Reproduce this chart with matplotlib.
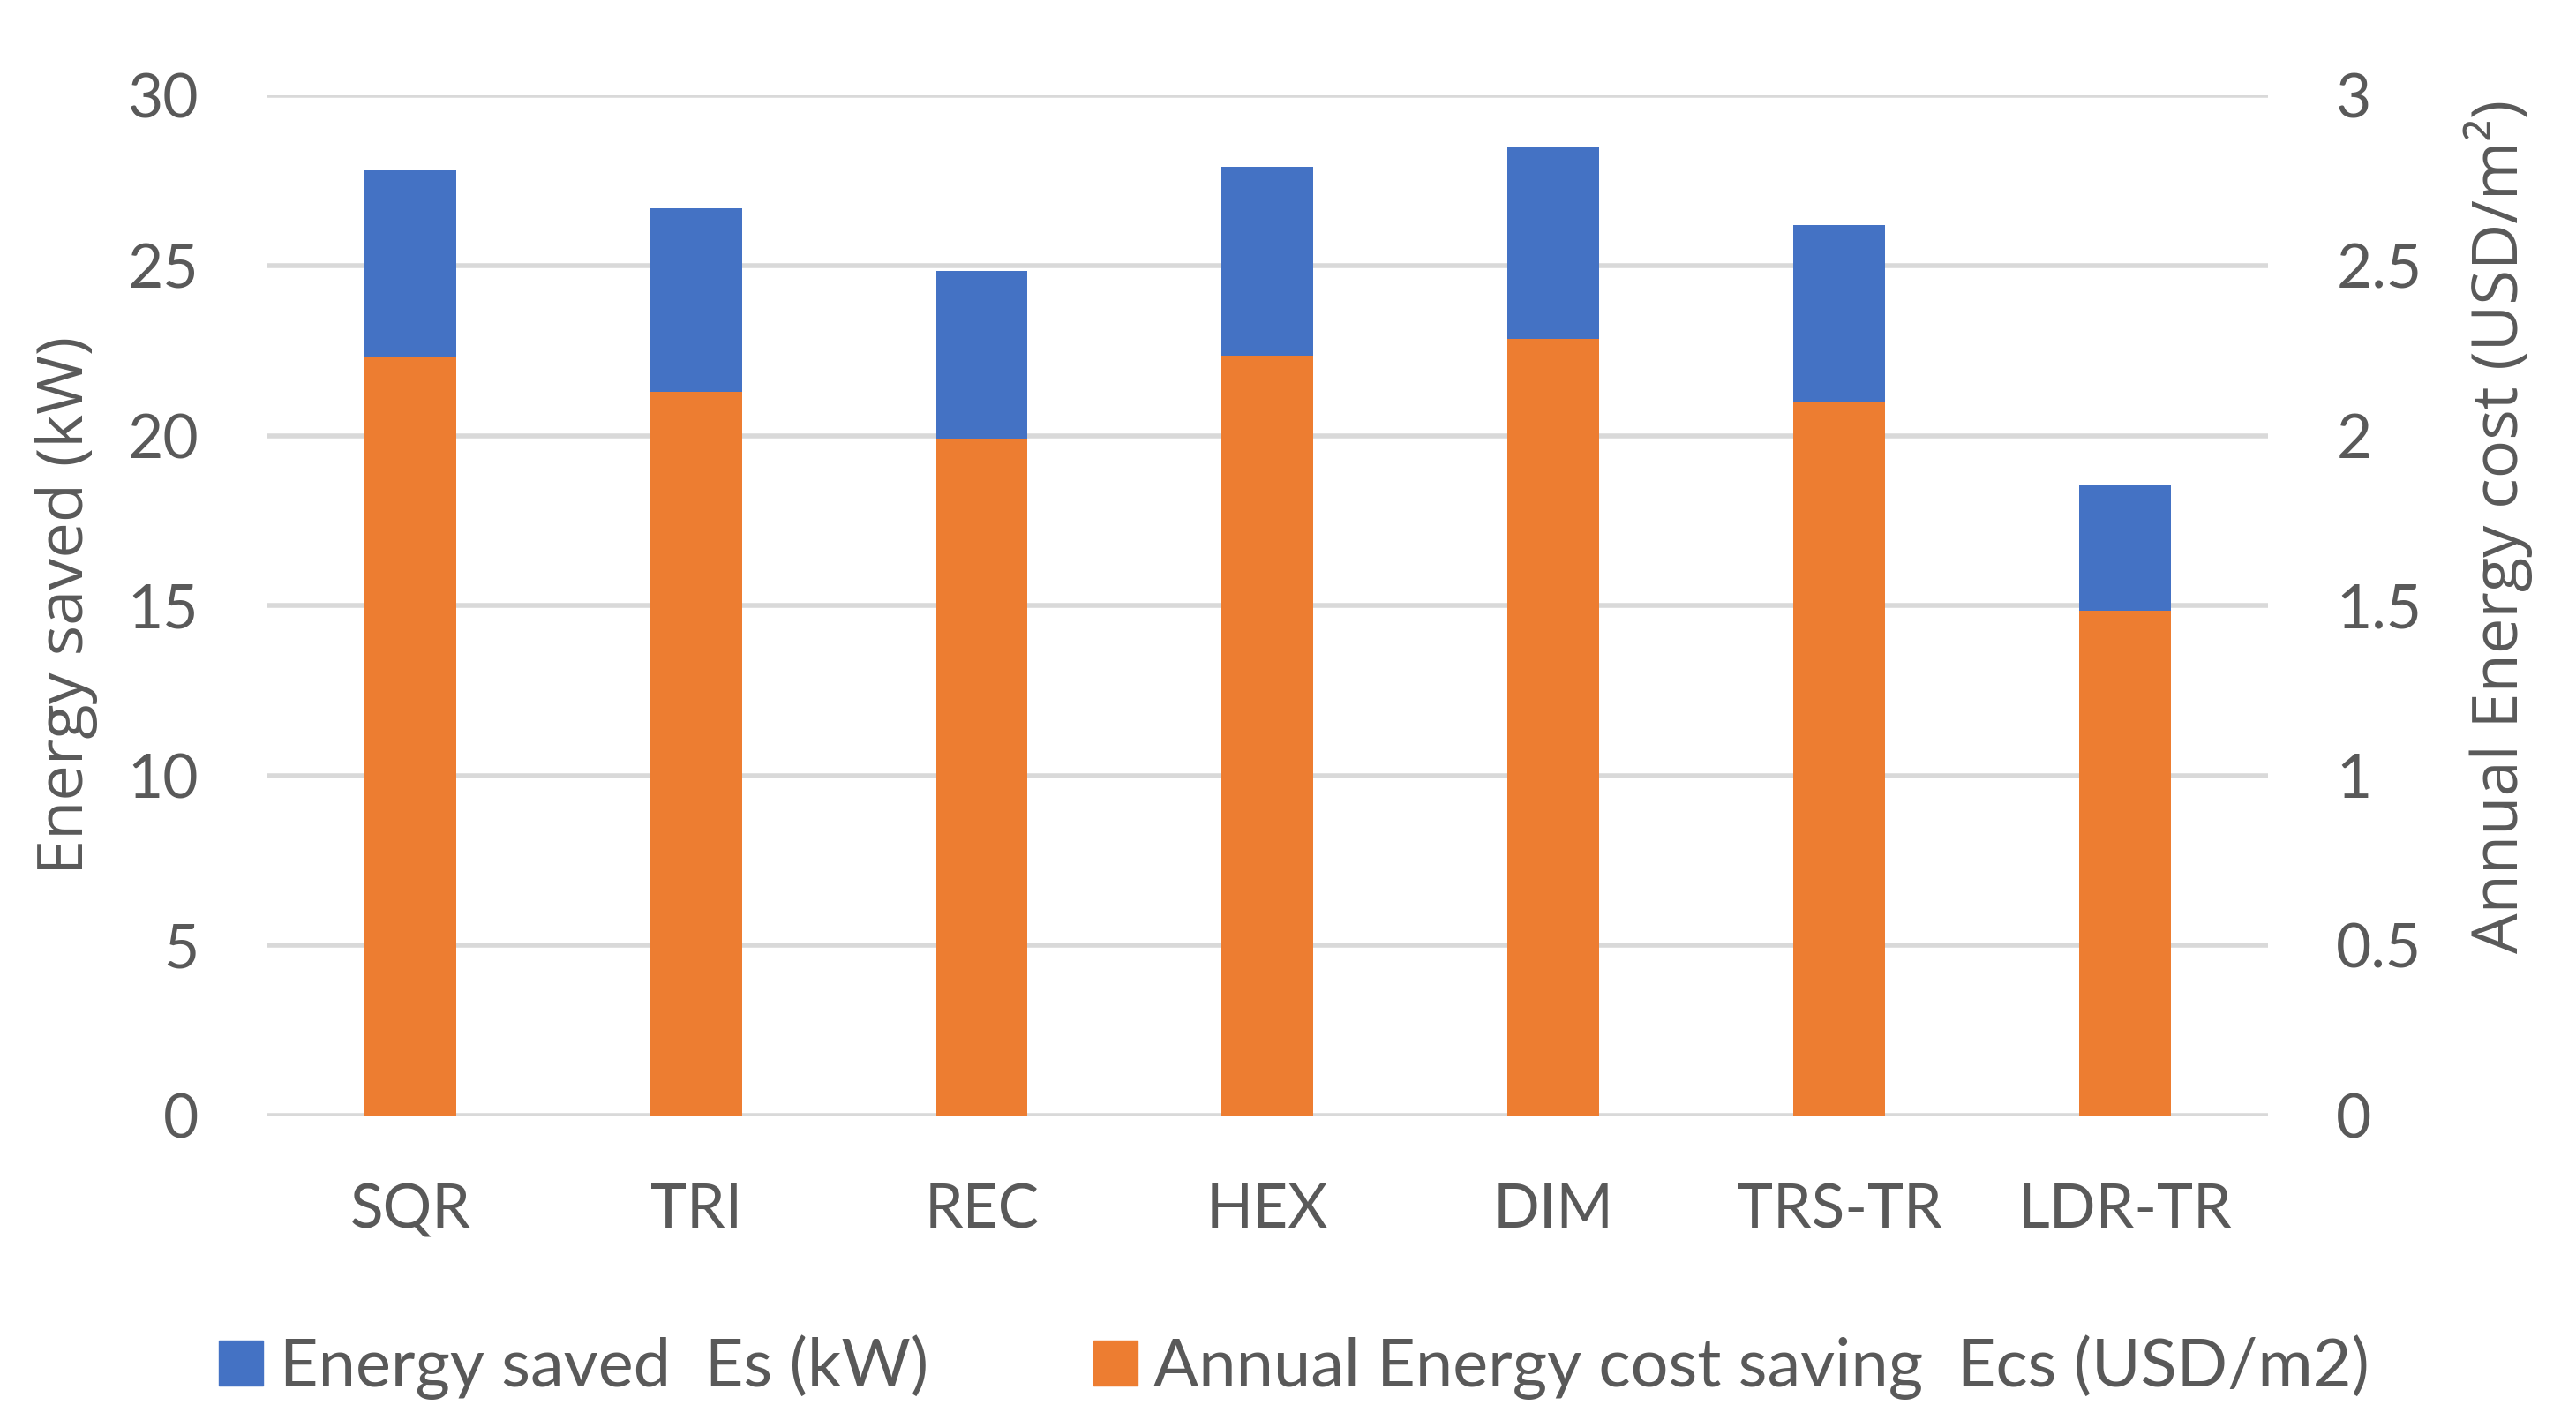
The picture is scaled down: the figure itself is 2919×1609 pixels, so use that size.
"""
Energy saved and annual energy cost saving per tracker layout.
"""

import matplotlib.pyplot as plt
from matplotlib.patches import Patch

categories = ["SQR", "TRI", "REC", "HEX", "DIM", "TRS-TR", "LDR-TR"]
energy_saved = [27.8, 26.7, 24.85, 27.9, 28.5, 26.2, 18.55]
cost_saving = [2.23, 2.13, 1.99, 2.235, 2.285, 2.10, 1.485]

blue = "#4472C4"
orange = "#ED7D31"
grey = "#595959"
tick_font = "Lato"
label_font = "Open Sans"

fig = plt.figure(figsize=(29.19, 16.09), dpi=100)
ax = fig.add_axes([0.1038, 0.2145, 0.7765, 0.7181])
ax2 = ax.twinx()

x = range(len(categories))
ax.bar(x, energy_saved, width=0.32, color=blue, zorder=2)
ax2.bar(x, cost_saving, width=0.32, color=orange, zorder=2)

ax.set_xlim(-0.5, 6.5)
ax.set_ylim(0, 30)
ax2.set_ylim(0, 3)
ax.set_yticks([0, 5, 10, 15, 20, 25, 30])
ax2.set_yticks([0, 0.5, 1, 1.5, 2, 2.5, 3])
ax2.set_yticklabels(["0", "0.5", "1", "1.5", "2", "2.5", "3"])
ax.set_xticks(list(x))
ax.set_xticklabels(categories)

ax.grid(axis="y", color="#D9D9D9", linewidth=4, zorder=0)
ax.set_axisbelow(True)
for a in (ax, ax2):
    for s in a.spines.values():
        s.set_visible(False)
    a.tick_params(length=0, colors=grey, labelsize=50)
    for t in a.get_xticklabels() + a.get_yticklabels():
        t.set_fontfamily(tick_font)
ax.tick_params(axis="y", pad=56)
ax2.tick_params(axis="y", pad=56)
ax.tick_params(axis="x", pad=55)

ax.set_ylabel("Energy saved (kW)", fontsize=52, color=grey, family=label_font, labelpad=24)
ax2.set_ylabel("Annual Energy cost (USD/m²)", fontsize=52, color=grey, family=label_font, labelpad=34)
ax2.yaxis.label.set_y(0.578)

handles = [Patch(color=blue), Patch(color=orange)]
labels = ["Energy saved  Es (kW)", "Annual Energy cost saving  Ecs (USD/m2)"]
fig.legend(handles, labels, loc="center", bbox_to_anchor=(0.5025, 0.037), ncol=2,
           frameon=False, prop={"family": tick_font, "size": 54.5}, labelcolor=grey,
           handlelength=0.66, handleheight=0.66, handletextpad=0.25, columnspacing=2.46)

fig.savefig("out.png", dpi=100)
